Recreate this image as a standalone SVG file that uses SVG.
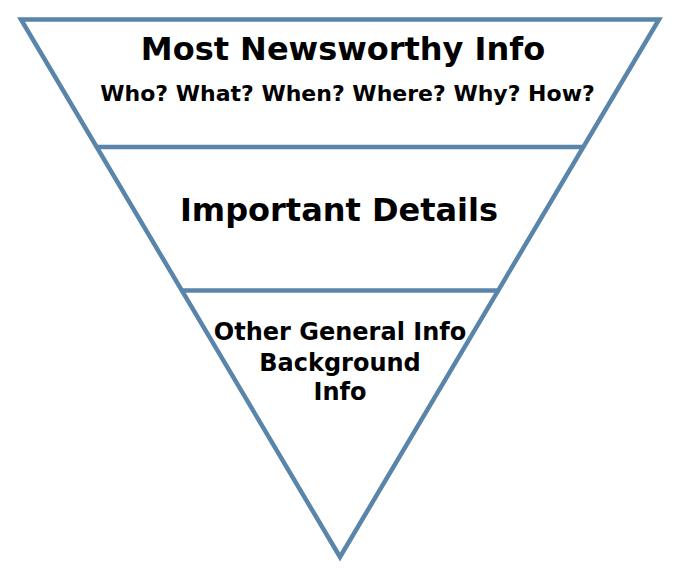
<svg xmlns="http://www.w3.org/2000/svg" width="680" height="580" viewBox="0 0 680 580">
<style>
.ln{fill:none;stroke:#5a85aa;stroke-width:4.5;stroke-linejoin:miter}
text{font-family:"DejaVu Sans",sans-serif;font-weight:bold;fill:#000;text-anchor:middle}
.big{font-size:32px}
.mid{font-size:22px}
.sm{font-size:24px}
</style>
<rect width="680" height="580" fill="#fff"/>
<g id="connectors">
<polygon class="ln" points="21,19.5 659,19.5 340,557"/>
<line class="ln" x1="97" y1="147" x2="583" y2="147"/>
<line class="ln" x1="181" y1="290.5" x2="499" y2="290.5"/>
</g>
<g id="top"><text class="big" x="343" y="60">Most Newsworthy Info</text><text class="mid" x="347.5" y="101">Who? What? When? Where? Why? How?</text></g>
<g id="middle"><text class="big" x="339" y="221">Important Details</text></g>
<g id="bottom"><text class="sm" x="340" y="340">Other General Info</text><text class="sm" x="340" y="370.5">Background</text><text class="sm" x="340" y="400">Info</text></g>
</svg>
